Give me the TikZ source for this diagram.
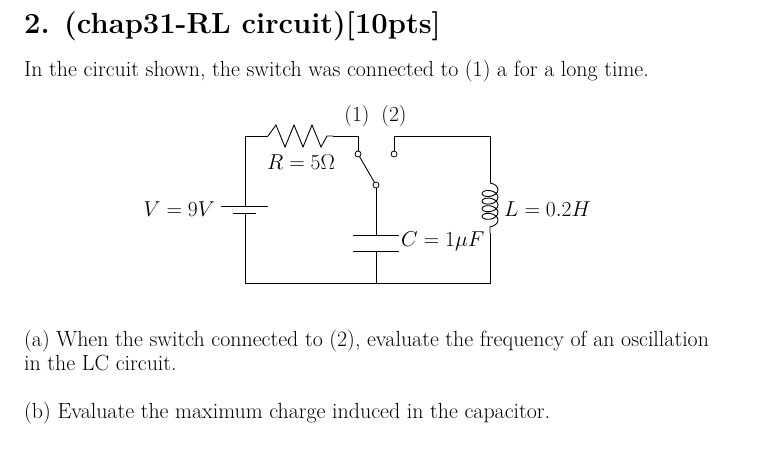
\documentclass[tikz,border=0pt]{standalone}
\usepackage{fix-cm}
\usepackage{fontspec}
\usetikzlibrary{decorations.pathmorphing}
\begin{document}
\begin{tikzpicture}[x=1pt,y=-1pt,
  w/.style={line width=0.9pt},
  txt/.style={anchor=base west,inner sep=0pt,font=\fontsize{21.9}{25}\selectfont},
  lab/.style={inner sep=1pt,font=\fontsize{21.5}{25}\selectfont},
  term/.style={circle,draw,fill=white,inner sep=0pt,minimum size=6pt,line width=0.8pt}]
\useasboundingbox (0,0) rectangle (760,448);
\node[anchor=base west,inner sep=0pt,font=\fontsize{29.1}{34}\selectfont\bfseries] (title) at (24,33) {2. (chap31-RL circuit)[10pts]};
\node[txt] (t1) at (24,76) {In the circuit shown, the switch was connected to (1) a for a long time.};
\node[txt] (t2) at (24,346) {(a) When the switch connected to (2), evaluate the frequency of an oscillation};
\node[txt] (t3) at (24,370) {in the LC circuit.};
\node[txt] (t4) at (24,418) {(b) Evaluate the maximum charge induced in the capacitor.};
% coordinates
\coordinate (tl) at (245,136);
\coordinate (bl) at (245,283);
\coordinate (br) at (490,283);
\coordinate (tr) at (490,136);
\coordinate (r1) at (268,136);
\coordinate (r2) at (333,136);
\coordinate (s1t) at (358,136);
\node[term] (s1) at (358,154) {};
\node[term] (s2) at (394,154) {};
\coordinate (s2t) at (394,136);
\node[term] (p) at (376,185) {};
\coordinate (cb) at (376,283);
\coordinate (lt) at (490,183);
\coordinate (lb) at (490,233);
% wires
\draw[w] (r1) -- (tl) -- (245,206);
\draw[w] (245,213) -- (bl) -- (br) -- (lb);
\draw[w] (lt) -- (tr) -- (s2t) -- (s2);
\draw[w] (r2) -- (s1t) -- (s1);
\draw[w] (s1) -- (p);
\draw[w] (p) -- (376,235);
\draw[w] (376,251) -- (cb);
% resistor
\draw[w,line join=miter] (r1) -- (276,125) -- (285,147) -- (294,125) -- (303,147) -- (312,125) -- (321,147) -- (327,136) -- (r2);
% battery
\draw[w] (221,206) -- (268,206);
\draw[w] (233,213) -- (256,213);
% capacitor
\draw[w] (353,235) -- (399,235);
\draw[w] (353,251) -- (399,251);
% inductor
\draw[w,decorate,decoration={coil,aspect=0.6,segment length=7.6pt,amplitude=8pt}] (lt) -- (lb);
% labels
\node[lab,anchor=east] (vl) at (216,209) {$V=9V$};
\node[lab] (rl) at (301,162) {$R=5\Omega$};
\node[lab] (c1) at (357,116) {(1)};
\node[lab] (c2) at (394,116) {(2)};
\node[lab,anchor=west] (cl) at (400,241) {$C=1\mu F$};
\node[lab,anchor=west] (ll) at (503,209) {$L=0.2H$};
\end{tikzpicture}
\end{document}
